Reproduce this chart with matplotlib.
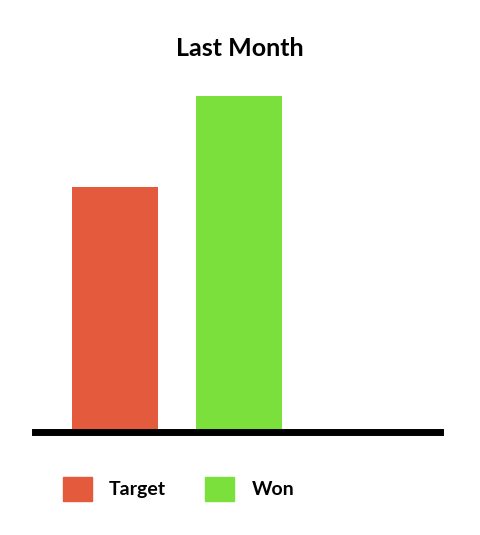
import matplotlib
matplotlib.use("Agg")
import matplotlib.pyplot as plt
from matplotlib.patches import Patch

categories = ["Target", "Won"]
values = [73, 100]
colors = ["#E35B3C", "#7BE03C"]
title = "Last Month"

plt.rcParams['font.family'] = ['Lato', 'DejaVu Sans']
W, H = 480, 535
fig = plt.figure(figsize=(W/100, H/100), dpi=100)
ax = fig.add_axes([35/W, 103/H, 405/W, 336/H])
ax.bar(range(len(categories)), values, width=0.696, color=colors)
ax.set_xlim(-0.648, 2.63)
ax.set_ylim(0, 100)
for s in ["top", "right", "left"]:
    ax.spines[s].set_visible(False)
ax.spines["bottom"].set_linewidth(5)
ax.spines["bottom"].set_color("black")
ax.set_xticks([]); ax.set_yticks([])
fig.text(240/W, 1-48/H, title, ha="center", va="center", fontsize=18, fontweight="bold")
handles = [Patch(color=c, label=l) for c, l in zip(colors, categories)]
fig.legend(handles=handles, loc="center left", bbox_to_anchor=(45/W, 1-489/H), ncol=2,
           frameon=False, prop={'weight': 'bold', 'size': 14}, handlelength=1.5,
           handleheight=1.5, columnspacing=2.0, handletextpad=0.9)
fig.savefig("out.png", dpi=100)
